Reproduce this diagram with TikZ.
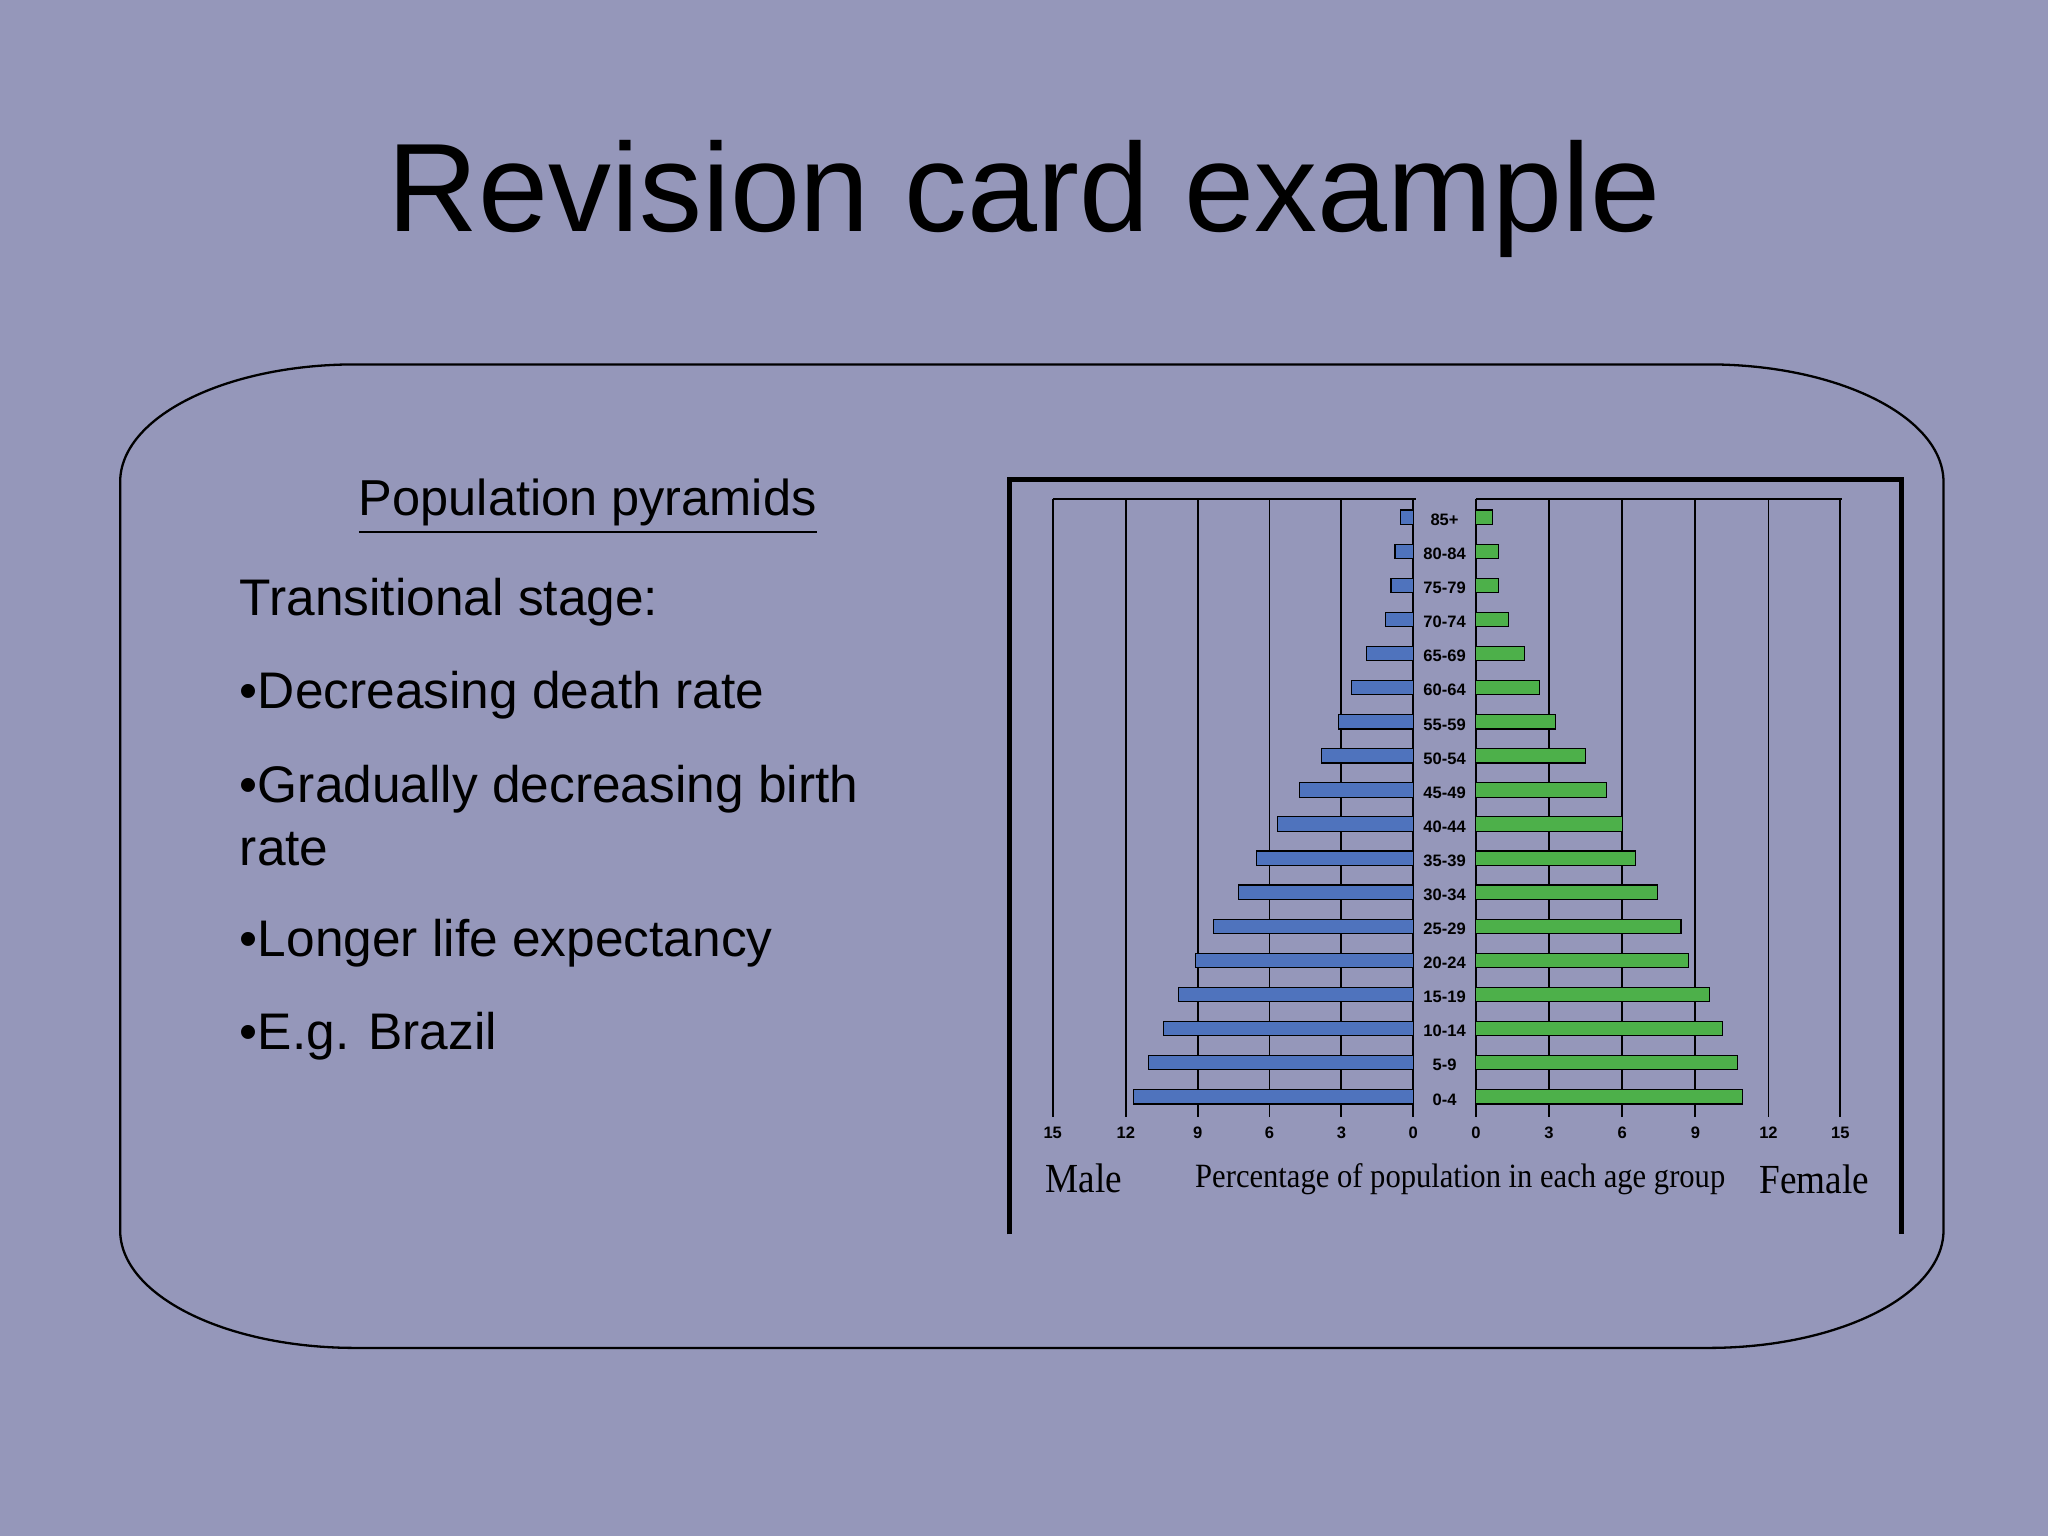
\documentclass[tikz,border=0pt]{standalone}
\usepackage{fontspec}
\setmainfont{Liberation Sans}
\newfontfamily\serifc{Liberation Serif}
\definecolor{bg}{HTML}{9597BA}
\definecolor{mblue}{HTML}{4F73BD}
\definecolor{fgreen}{HTML}{4DB04A}
\begin{document}
\begin{tikzpicture}[x=0.01cm,y=-0.01cm,
  body/.style={anchor=west,inner sep=0,font=\fontsize{11.2}{13}\selectfont},
  tick/.style={inner sep=0,font=\bfseries\fontsize{3.6}{4}\selectfont},
  mbar/.style={draw=black,line width=0.25pt,fill=mblue},
  fbar/.style={draw=black,line width=0.25pt,fill=fgreen}]
\fill[bg] (0,0) rectangle (1568,1176);
\useasboundingbox (0,0) rectangle (1568,1176);
\node[inner sep=0,font=\fontsize{27.4}{30}\selectfont] (title) at (784,152) {Revision card example};
% card
\draw[line width=0.5pt] (272,279) -- (1308,279) arc[start angle=-90,end angle=0,x radius=180,y radius=90]
  -- (1488,942) arc[start angle=0,end angle=90,x radius=180,y radius=90]
  -- (272,1032) arc[start angle=90,end angle=180,x radius=180,y radius=90]
  -- (92,369) arc[start angle=180,end angle=270,x radius=180,y radius=90] -- cycle;
\node[inner sep=0,font=\fontsize{11}{13}\selectfont] (head) at (450,388) {\underline{Population pyramids}};
\node[body] (t1) at (183,461) {Transitional stage:};
\node[body] (t2) at (183,532) {•Decreasing death rate};
\node[body] (t3) at (183,604) {•Gradually decreasing birth};
\node[body] (t3b) at (183,650) {rate};
\node[body] (t4) at (183,722) {•Longer life expectancy};
\node[body] (t5) at (183,793) {•E.g. Brazil};
% chart frame
\draw[line width=1.2pt] (773,945) -- (773,367) -- (1456,367) -- (1456,945);
% grid
\draw[line width=0.4pt] (806,382) -- (1084,382);
\draw[line width=0.4pt] (1130,382) -- (1410,382);
\foreach \x/\l in {806/15,862/12,917/9,972/6,1027/3,1082/0}{
  \draw[line width=0.4pt] (\x,382) -- (\x,855);
  \node[tick] (m\l) at (\x,867) {\l};}
\foreach \x/\l in {1130/0,1186/3,1242/6,1298/9,1354/12,1409/15}{
  \draw[line width=0.4pt] (\x,382) -- (\x,855);
  \node[tick] (f\l) at (\x,867) {\l};}
% bars
\foreach \a/\ml/\fr [count=\i from 0] in {85+/1072/1143,80-84/1068/1147,75-79/1065/1147,70-74/1061/1155,65-69/1046/1167,60-64/1035/1179,55-59/1025/1191,50-54/1012/1214,45-49/995/1230,40-44/978/1242,35-39/962/1252,30-34/948/1269,25-29/929/1287,20-24/915/1293,15-19/902/1309,10-14/891/1319,5-9/879/1330,0-4/868/1334}{
  \pgfmathsetmacro\yy{396+26.1*\i}
  \draw[mbar] (\ml,\yy-5.5) rectangle (1082,\yy+5.5);
  \draw[fbar] (1130,\yy-5.5) rectangle (\fr,\yy+5.5);
  \node[tick] (age\i) at (1106,\yy+2) {\a};
}
\node[inner sep=0,font=\serifc\fontsize{9}{10}\selectfont] (male) at (830,902) {\scalebox{0.9}[1]{Male}};
\node[inner sep=0,font=\serifc\fontsize{7.4}{9}\selectfont] (xl) at (1118,903) {\scalebox{0.9}[1]{Percentage of population in each age group}};
\node[inner sep=0,font=\serifc\fontsize{9}{10}\selectfont] (female) at (1389,903) {\scalebox{0.9}[1]{Female}};
\end{tikzpicture}
\end{document}
